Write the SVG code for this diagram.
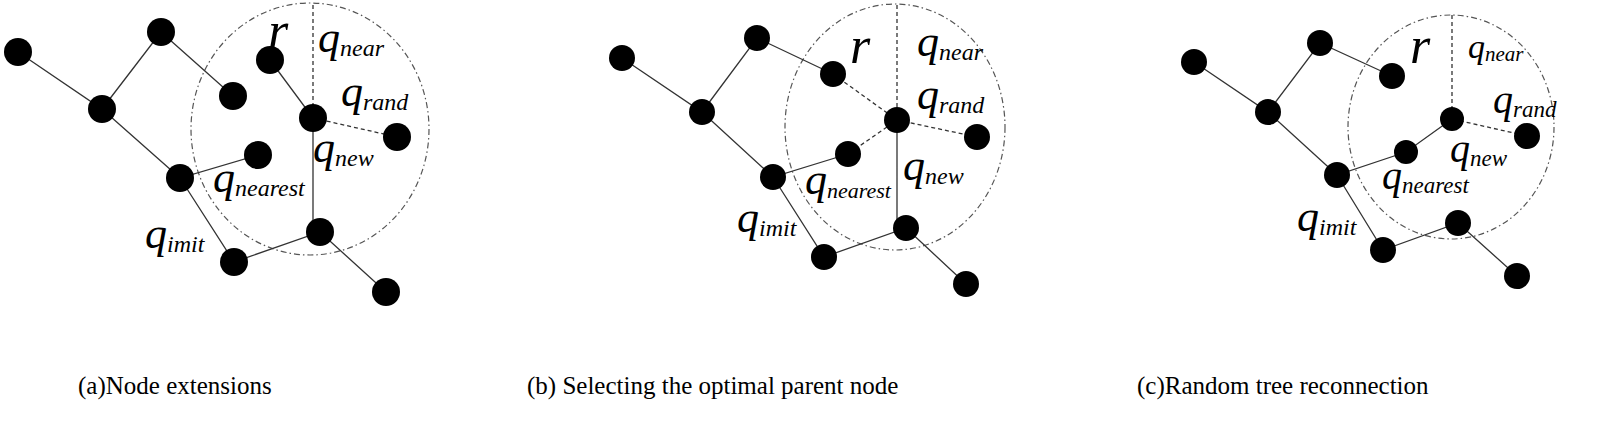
<svg xmlns="http://www.w3.org/2000/svg" width="1620" height="426" viewBox="0 0 1620 426">
<style>
.n{fill:#000}
.e{stroke:#333;stroke-width:1.3;fill:none}
.d{stroke:#333;stroke-width:1.3;fill:none;stroke-dasharray:4 3}
.c{stroke:#555;stroke-width:1.2;fill:none;stroke-dasharray:6 3 1.5 3}
text{font-family:"Liberation Serif","DejaVu Serif",serif;fill:#000}
.l{font-style:italic}
.q{font-size:44px}.s{font-size:24px}.r{font-size:52px}
.cap{font-size:25px}
</style>
<rect width="1620" height="426" fill="#fff"/>
<g id="connectors">
<ellipse class="c" cx="310" cy="129" rx="119" ry="126"/>
<ellipse class="c" cx="895" cy="127" rx="110" ry="123"/>
<ellipse class="c" cx="1451" cy="127" rx="103" ry="112"/>
<path class="e" d="M18,52L102,109L161,32L233,96M102,109L180,178L258,155M180,178L234,262L320,232L386,292M270,60L313,118L313,232"/>
<path class="d" d="M313,5V118M313,118L397,137"/>
<path class="e" d="M622,58L702,112L757,38L833,74M702,112L773,177L848,154M773,177L824,257L906,228L966,284M897,120V228"/>
<path class="d" d="M833,74L897,120L848,154M897,120L977,137M897,5V120"/>
<path class="e" d="M1194,62L1268,112L1320,43L1392,76M1268,112L1337,175L1406,152L1452,119M1337,175L1383,250L1458,223L1517,276"/>
<path class="d" d="M1452,15V119L1527,136"/>
</g>
<g id="a-nodes">
<circle class="n" cx="18" cy="52" r="14"/><circle class="n" cx="161" cy="32" r="14"/><circle class="n" cx="102" cy="109" r="14"/><circle class="n" cx="233" cy="96" r="14"/><circle class="n" cx="270" cy="60" r="14"/><circle class="n" cx="313" cy="118" r="14"/><circle class="n" cx="397" cy="137" r="14"/><circle class="n" cx="258" cy="155" r="14"/><circle class="n" cx="180" cy="178" r="14"/><circle class="n" cx="320" cy="232" r="14"/><circle class="n" cx="234" cy="262" r="14"/><circle class="n" cx="386" cy="292" r="14"/>
</g>
<g id="b-nodes">
<circle class="n" cx="622" cy="58" r="13"/><circle class="n" cx="757" cy="38" r="13"/><circle class="n" cx="702" cy="112" r="13"/><circle class="n" cx="833" cy="74" r="13"/><circle class="n" cx="897" cy="120" r="13"/><circle class="n" cx="977" cy="137" r="13"/><circle class="n" cx="848" cy="154" r="13"/><circle class="n" cx="773" cy="177" r="13"/><circle class="n" cx="906" cy="228" r="13"/><circle class="n" cx="824" cy="257" r="13"/><circle class="n" cx="966" cy="284" r="13"/>
</g>
<g id="c-nodes">
<circle class="n" cx="1194" cy="62" r="13"/><circle class="n" cx="1320" cy="43" r="13"/><circle class="n" cx="1268" cy="112" r="13"/><circle class="n" cx="1392" cy="76" r="13"/><circle class="n" cx="1452" cy="119" r="12"/><circle class="n" cx="1527" cy="136" r="13"/><circle class="n" cx="1406" cy="152" r="12"/><circle class="n" cx="1337" cy="175" r="13"/><circle class="n" cx="1458" cy="223" r="13"/><circle class="n" cx="1383" cy="250" r="13"/><circle class="n" cx="1517" cy="276" r="13"/>
</g>
<g id="a-labels">
<text class="l r" x="268" y="48">r</text>
<text class="l q" x="318" y="52">q<tspan class="s" dy="4">near</tspan></text>
<text class="l q" x="341" y="106">q<tspan class="s" dy="4">rand</tspan></text>
<text class="l q" x="313" y="162">q<tspan class="s" dy="4">new</tspan></text>
<text class="l q" x="213" y="192">q<tspan class="s" dy="4">nearest</tspan></text>
<text class="l q" x="145" y="248">q<tspan class="s" dy="4">imit</tspan></text>
</g>
<g id="b-labels">
<text class="l r" x="850" y="63">r</text>
<text class="l q" x="917" y="56">q<tspan class="s" dy="4">near</tspan></text>
<text class="l q" x="917" y="109">q<tspan class="s" dy="4">rand</tspan></text>
<text class="l q" x="903" y="180">q<tspan class="s" dy="4">new</tspan></text>
<text class="l q" x="805" y="194">q<tspan font-size="22" dy="4">nearest</tspan></text>
<text class="l q" x="737" y="232">q<tspan class="s" dy="4">imit</tspan></text>
</g>
<g id="c-labels">
<text class="l r" x="1410" y="63">r</text>
<text class="l" font-size="34" x="1468" y="58">q<tspan font-size="21" dy="3">near</tspan></text>
<text class="l" font-size="40" x="1493" y="113">q<tspan font-size="23" dy="4">rand</tspan></text>
<text class="l" font-size="40" x="1450" y="162">q<tspan font-size="23" dy="4">new</tspan></text>
<text class="l" font-size="40" x="1382" y="189">q<tspan font-size="23" dy="4">nearest</tspan></text>
<text class="l q" x="1297" y="231">q<tspan class="s" dy="4">imit</tspan></text>
</g>
<g id="captions">
<text class="cap" x="78" y="394">(a)Node extensions</text>
<text class="cap" x="527" y="394">(b) Selecting the optimal parent node</text>
<text class="cap" x="1137" y="394">(c)Random tree reconnection</text>
</g>
</svg>
